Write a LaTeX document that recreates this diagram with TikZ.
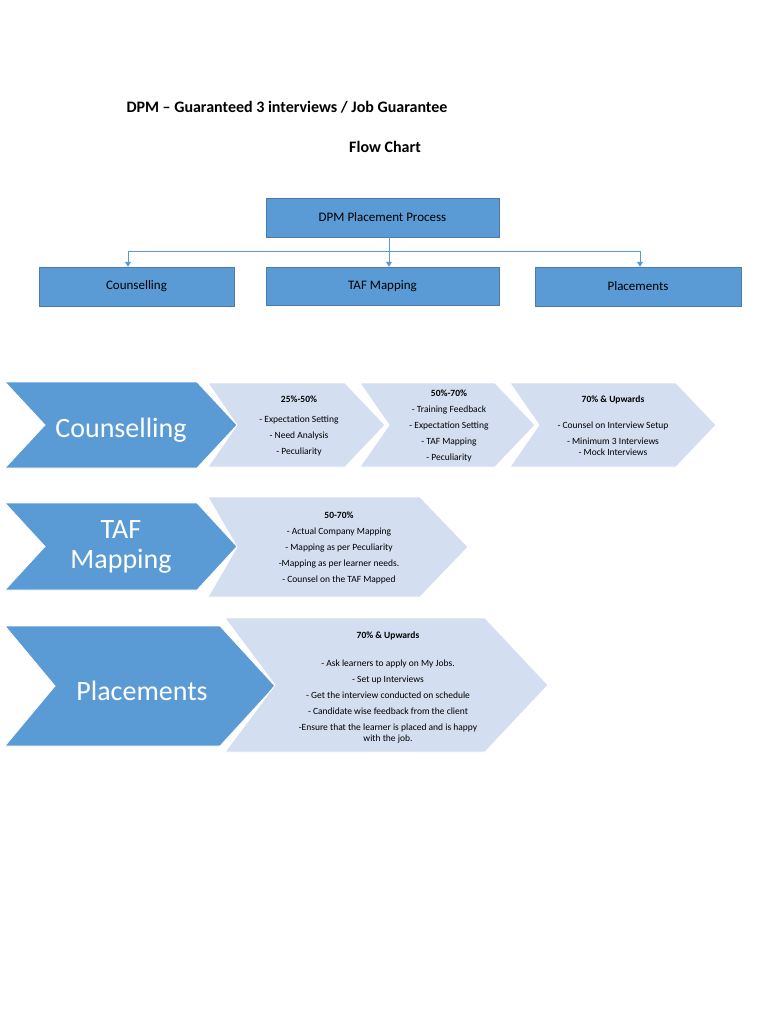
\documentclass[tikz,border=0pt]{standalone}
\usepackage{fontspec}
\setmainfont{Carlito}
\usetikzlibrary{arrows.meta}
\definecolor{dpmblue}{HTML}{5B9BD5}
\definecolor{dpmlight}{HTML}{D3DEF0}
\tikzstyle{box}=[fill=dpmblue,draw=dpmblue!80!black,line width=0.4pt,inner sep=0pt,font=\fontsize{13}{15}\selectfont]
\tikzstyle{bigchev}=[fill=dpmblue,draw=white,line width=0.8pt]
\tikzstyle{smallchev}=[fill=dpmlight,draw=white,line width=0.8pt]
\tikzstyle{stage}=[text=white,align=center,font=\fontsize{28}{30}\selectfont]
\tikzstyle{items}=[align=center,font=\fontsize{9.5}{16}\selectfont]
\tikzstyle{link}=[draw=dpmblue,line width=1pt,-{Triangle[length=5pt,width=6pt]}]
% chevron: left, top, right (top corner), bottom, tip x, notch x
\newcommand{\chev}[7]{\fill[#1] (#2,#3) -- (#4,#3) -- (#6,{(#3+#5)/2}) -- (#4,#5) -- (#2,#5) -- (#7,{(#3+#5)/2}) -- cycle;}
\begin{document}
\begin{tikzpicture}[x=1pt,y=-1pt]
\useasboundingbox (0,0) rectangle (768,1024);
\node[font=\fontsize{16}{18}\selectfont\bfseries,anchor=west] (Title) at (123,107) {DPM – Guaranteed 3 interviews / Job Guarantee};
\node[font=\fontsize{16}{18}\selectfont\bfseries] (Sub) at (385,147) {Flow Chart};
\node[box,minimum width=233pt,minimum height=39pt] (Proc) at (382.5,217.5) {DPM Placement Process};
\node[box,minimum width=195pt,minimum height=39pt] (Coun) at (136.5,286.5) {Counselling};
\node[box,minimum width=233pt,minimum height=38pt] (Taf) at (382.5,286) {TAF Mapping};
\node[box,minimum width=206pt,minimum height=39pt] (Plac) at (638,286.5) {Placements};
\coordinate (Hub) at (389,251);
\coordinate (HubL) at (128,251);
\coordinate (HubR) at (640,251);
\draw[link] (Proc.south -| Hub) -- (Taf.north -| Hub);
\draw[draw=dpmblue,line width=1pt] (HubL) -- (HubR);
\draw[link] (HubL) -- (Coun.north -| HubL);
\draw[link] (HubR) -- (Plac.north -| HubR);
% counselling row
\chev{bigchev}{5}{382}{197}{468}{237}{45}
\chev{smallchev}{208}{383}{345}{467}{385}{237}
\chev{smallchev}{360}{383}{495}{467}{535}{389}
\chev{smallchev}{510}{383}{676}{467}{716}{539}
\node[stage] (S1) at (121,430) {Counselling};
\node[items] (C1) at (299,426) {\textbf{25\%-50\%}\\[4pt] - Expectation Setting\\ - Need Analysis\\ - Peculiarity};
\node[items] (C2) at (449,426) {\textbf{50\%-70\%}\\ - Training Feedback\\ - Expectation Setting\\ - TAF Mapping\\ - Peculiarity};
\node[items] (C3) at (613,426) {\textbf{70\% \& Upwards}\\[10pt] - Counsel on Interview Setup\\ - Minimum 3 Interviews\\[-5pt] - Mock Interviews};
% TAF mapping row
\chev{bigchev}{5}{503}{197}{590}{237}{45}
\chev{smallchev}{208}{497}{420}{597}{468}{237}
\node[stage,font=\fontsize{28}{30}\selectfont] (S2) at (121,547) {TAF\\Mapping};
\node[items] (T1) at (339,548) {\textbf{50-70\%}\\ - Actual Company Mapping\\ - Mapping as per Peculiarity\\ -Mapping as per learner needs.\\ - Counsel on the TAF Mapped};
% placements row
\chev{bigchev}{5}{626}{220}{746}{275}{55}
\chev{smallchev}{225}{618}{485}{752}{548}{275}
\node[stage] (S3) at (142,691) {Placements};
\node[items] (P1) at (388,687) {\textbf{70\% \& Upwards}\\[12pt] - Ask learners to apply on My Jobs.\\ - Set up Interviews\\ - Get the interview conducted on schedule\\ - Candidate wise feedback from the client\\ -Ensure that the learner is placed and is happy\\[-5pt] with the job.};
\end{tikzpicture}
\end{document}
